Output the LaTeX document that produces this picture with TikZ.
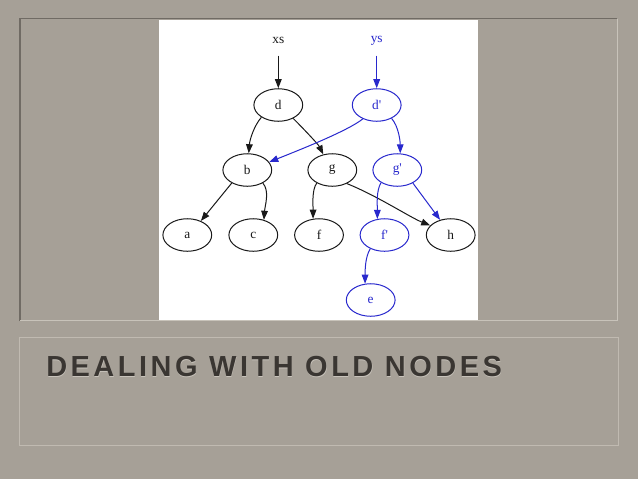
\documentclass[tikz,border=0pt]{standalone}
\usepackage{fontspec}
\setmainfont{Liberation Serif}
\newfontfamily\titlefont[LetterSpace=12]{Liberation Sans}
\usetikzlibrary{shapes.geometric,arrows.meta}
\definecolor{slidebg}{RGB}{166,160,151}
\definecolor{frameDark}{RGB}{112,107,100}
\definecolor{frameLight}{RGB}{200,195,186}
\definecolor{titleInk}{RGB}{58,54,50}
\definecolor{titleHi}{RGB}{200,195,187}
\definecolor{gblue}{RGB}{40,40,205}
\definecolor{gblack}{RGB}{25,25,25}
\begin{document}
\begin{tikzpicture}[x=0.75pt,y=-0.75pt,
  gnode/.style={ellipse,draw=gblack,line width=0.75pt,minimum width=36.6pt,minimum height=24.4pt,inner sep=0pt,font=\fontsize{10}{12}\selectfont,text=gblack},
  bnode/.style={gnode,draw=gblue,text=gblue},
  lbl/.style={inner sep=0pt,minimum height=22pt,font=\fontsize{10}{12}\selectfont},
  gedge/.style={color=gblack,line width=0.75pt,-{Triangle[length=6.8pt,width=5pt]}},
  bedge/.style={gedge,color=gblue},
  titletext/.style={anchor=base west,inner sep=0pt,font=\titlefont\bfseries\fontsize{21.75}{24}\selectfont}
]
\useasboundingbox (0,0) rectangle (638,479);
\fill[slidebg] (0,0) rectangle (638,479);
% upper panel frame
\draw[frameDark,line width=0.9pt] (20,321) -- (20,18.5) -- (617,18.5);
\draw[frameLight,line width=0.75pt] (617,18.5) -- (617,320.7) -- (20,320.7);
% lower panel frame
\draw[frameLight!75!slidebg,line width=0.6pt] (19.5,337) rectangle (618,445.7);
% white canvas
\fill[white] (159,20) rectangle (478,320);

% graph nodes
\node[lbl,text=gblack] (xs) at (278.3,40.7) {xs};
\node[lbl,text=gblue] (ys) at (376.7,40.7) {ys};
\node[gnode] (d) at (278.3,105) {d};
\node[bnode] (dp) at (376.7,105) {d\textquotesingle};
\node[gnode] (b) at (247.3,170) {b};
\node[gnode] (g) at (332.3,170) {g};
\node[bnode] (gp) at (397.3,170) {g\textquotesingle};
\node[gnode] (a) at (187.3,235) {a};
\node[gnode] (c) at (253.3,235) {c};
\node[gnode] (f) at (319,235) {f};
\node[bnode] (fp) at (384.5,235) {f\textquotesingle};
\node[gnode] (h) at (450.7,235) {h};
\node[bnode] (e) at (370.7,300) {e};

% edges
\draw[gedge] (xs) -- (d);
\draw[bedge] (ys) -- (dp);
\draw[gedge] (d.216) .. controls +(-7,8) and +(1,-14) .. (b.85);
\draw[gedge] (d.318) .. controls +(10,10) and +(-5,-10) .. (g.120);
\draw[bedge] (dp.225) .. controls +(-15,12) and +(30,-12) .. (b.20);
\draw[bedge] (dp.318) .. controls +(7,8) and +(0,-12) .. (gp.80);
\draw[gedge] (b.220) -- (a.46);
\draw[gedge] (b.320) .. controls +(7,8) and +(1,-14) .. (c.55);
\draw[gedge] (g.220) .. controls +(-5,7) and +(0,-14) .. (f.110);
\draw[gedge] (g.317) .. controls +(30,12) and +(-20,-8) .. (h.155);
\draw[bedge] (gp.218) .. controls +(-5,8) and +(0,-14) .. (fp.114);
\draw[bedge] (gp.320) -- (h.125);
\draw[bedge] (fp.224) .. controls +(-5,8) and +(0,-14) .. (e.109);

% title
\node[titletext,text=titleHi] (titleshadow) at (46.3,377.7) {DEALING WITH OLD NODES};
\node[titletext,text=titleInk] (title) at (46,376.7) {DEALING WITH OLD NODES};
\end{tikzpicture}
\end{document}
